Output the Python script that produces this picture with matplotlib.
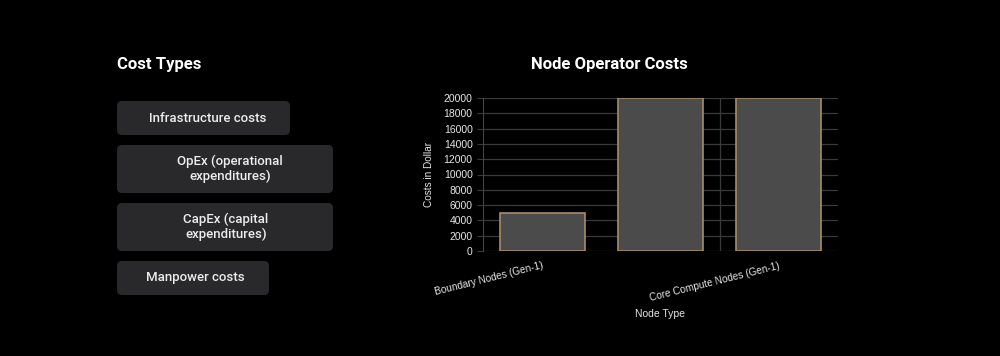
import matplotlib.pyplot as plt
from matplotlib.patches import FancyBboxPatch

categories = ['Boundary Nodes (Gen-1)', 'API Boundary Nodes (Gen-2)', 'Core Compute Nodes (Gen-1)']
tick_labels = ['Boundary Nodes (Gen-1)', '', 'Core Compute Nodes (Gen-1)']
costs = [5000, 20000, 20000]
y_ticks = list(range(0, 20001, 2000))

cost_types = ['Infrastructure costs', 'OpEx (operational\nexpenditures)',
              'CapEx (capital\nexpenditures)', 'Manpower costs']

W, H = 1000, 356
fig = plt.figure(figsize=(10, 3.56), dpi=100, facecolor='black')
plt.rcParams['font.family'] = ['Roboto', 'DejaVu Sans']
chart_font = ['Liberation Sans', 'DejaVu Sans']
grid_col = '#3a3a3a'

# left panel: list of cost types in rounded boxes (pixel coords)
bg = fig.add_axes([0, 0, 1, 1])
bg.set_xlim(0, W)
bg.set_ylim(H, 0)
bg.axis('off')
bg.text(117, 65, 'Cost Types', color='white', fontsize=12, fontweight='bold', va='center')

boxes = [(117, 101, 173, 34), (117, 145, 216, 48), (117, 203, 216, 48), (117, 261, 152, 34)]
text_x = [208, 230, 226, 195]
for (x, y, w, h), tx, label in zip(boxes, text_x, cost_types):
    bg.add_patch(FancyBboxPatch((x, y), w, h, boxstyle='round,pad=0,rounding_size=5',
                                facecolor='#29292b', edgecolor='none'))
    bg.text(tx, y + h / 2, label, color='#ececec', fontsize=9.5, fontweight='medium',
            ha='center', va='center', linespacing=1.1)

# right panel: bar chart
ax = fig.add_axes([483 / W, 1 - 251 / H, 355 / W, 153 / H])
ax.set_facecolor('black')
x = range(len(categories))
ax.bar(x, costs, width=0.72, color='#4b4b4b', edgecolor='#a88d68', linewidth=1.2, zorder=3)
ax.set_xlim(-0.5, 2.5)
ax.set_ylim(0, 20000)
ax.set_yticks(y_ticks)
ax.set_yticklabels([str(v) for v in y_ticks], family=chart_font)
ax.set_xticks(list(x))
ax.set_xticklabels(tick_labels, rotation=14, ha='right', rotation_mode='anchor', family=chart_font)
ax.tick_params(axis='y', colors=grid_col, labelcolor='#e6e6e6', labelsize=7.5, length=4)
ax.tick_params(axis='x', length=0, labelcolor='#e6e6e6', labelsize=7.2, pad=7)
ax.grid(axis='y', color=grid_col, linewidth=0.9, zorder=0)
ax.axvline(1.5, color=grid_col, linewidth=0.9, zorder=0)
for s in ['top', 'right', 'bottom']:
    ax.spines[s].set_visible(False)
ax.spines['left'].set_color('#444444')
ax.set_ylabel('Costs in Dollar', color='#e6e6e6', fontsize=7.2, labelpad=7, family=chart_font)

bg.text(609, 65, 'Node Operator Costs', color='white', fontsize=12, fontweight='bold',
        ha='center', va='center')
bg.text(660, 314, 'Node Type', color='#e6e6e6', fontsize=7.5, ha='center', va='center',
        family=chart_font)

fig.savefig('out.png', dpi=100, facecolor='black')
